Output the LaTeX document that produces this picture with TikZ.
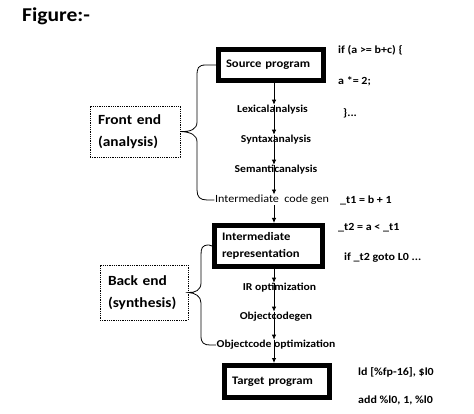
\documentclass[tikz,border=0pt]{standalone}
\usepackage{fontspec}
\setmainfont{Carlito}[FakeStretch=1.1]
\usetikzlibrary{arrows.meta,calc}
\begin{document}
\begin{tikzpicture}[x=1pt,y=-1pt,
  bigbox/.style={draw,line width=5pt,align=left,inner xsep=7.5pt,inner ysep=0pt,font=\bfseries\fontsize{11.5}{17}\selectfont},
  sidebox/.style={draw,line width=0.8pt,dash pattern=on 1pt off 0.8pt,align=left,inner xsep=8pt,inner ysep=0pt,font=\bfseries\fontsize{14}{22}\selectfont},
  stage/.style={inner sep=0.5pt,font=\bfseries\fontsize{10.6}{12}\selectfont},
  code/.style={anchor=west,inner sep=0pt,font=\bfseries\fontsize{10.9}{12}\selectfont},
  arr/.style={-{Latex[length=5pt,width=4.5pt]},line width=0.8pt},
  brace/.style={line width=0.8pt}]
\useasboundingbox (0,0) rectangle (474,414);
\node[anchor=west,inner sep=0pt,font=\bfseries\fontsize{19.6}{22}\selectfont] (fig) at (22,16) {Figure:-};
\coordinate (axis) at (274,0);
% boxes
\node[bigbox,text width=90pt,minimum height=31pt] (src) at (271,65) {Source program\vphantom{p}\\[-3pt]};
\node[bigbox,text width=93pt,minimum height=41pt] (ir) at (268.5,246) {Intermediate\\representation};
\node[bigbox,text width=90pt,minimum height=32pt] (tgt) at (277,381.5) {Target program};
% stages
\node[stage] (lex) at (272.5,110) {Lexicalanalysis};
\node[stage] (syn) at (276,140) {Syntaxanalysis};
\node[stage] (sem) at (276,170) {Semanticanalysis};
\node[stage,font=\fontsize{11}{12}\selectfont] (cg) at (272,200) {Intermediate\ \ code gen};
\node[stage] (iro) at (279.5,288) {IR optimization};
\node[stage] (ocg) at (276,317) {Objectcodegen};
\node[stage] (oco) at (276,345) {Objectcode optimization};
% side boxes
\node[sidebox,text width=74pt,minimum height=51pt] (front) at (135,131.5) {Front end\\(analysis)};
\node[sidebox,text width=72pt,minimum height=55pt] (back) at (144,292.5) {Back end\\(synthesis)};
% code
\node[code] (c1) at (338,50) {if (a >= b+c) \{};
\node[code] (c2) at (338,81) {a *= 2;};
\node[code] (c3) at (343,113) {\}...};
\node[code] (c4) at (340,200) {\_t1 = b + 1};
\node[code] (c5) at (338,228) {\_t2 = a < \_t1};
\node[code] (c6) at (344,258) {if \_t2 goto L0 ...};
\node[code] (c7) at (358,372) {ld [\%fp-16], \$l0};
\node[code] (c8) at (358,400) {add \%l0, 1, \%l0};
% arrows
\draw[arr] (src.south -| axis) -- (lex.north -| axis);
\draw[arr] (lex.north -| axis) -- (syn.north -| axis);
\draw[arr] (syn.north -| axis) -- (sem.north -| axis);
\draw[arr] (sem.north -| axis) -- (cg.north -| axis);
\draw[arr] (cg.south -| axis) -- (ir.north -| axis);
\draw[arr] (ir.south -| axis) -- (iro.north -| axis);
\draw[arr] (iro.north -| axis) -- (ocg.north -| axis);
\draw[arr] (ocg.north -| axis) -- (oco.north -| axis);
\draw[arr] (oco.north -| axis) -- (tgt.north -| axis);
% braces
\draw[brace] (src.west) -- (206,65) .. controls (198,65) and (197,68) .. (197,76) -- (197,122)
  .. controls (197,129) and (191,132) .. (front.east)
  .. controls (191,132) and (197,135) .. (197,142) -- (197,190)
  .. controls (197,197) and (200,200) .. (207,200) -- (cg.west);
\draw[brace] (ir.west) -- (209,245) .. controls (202,245) and (201,248) .. (201,255) -- (201,283)
  .. controls (201,290) and (195,293) .. (back.east)
  .. controls (195,293) and (201,296) .. (201,303) -- (201,336)
  .. controls (201,343) and (204,345) .. (210,345) -- (oco.west);
\end{tikzpicture}
\end{document}
